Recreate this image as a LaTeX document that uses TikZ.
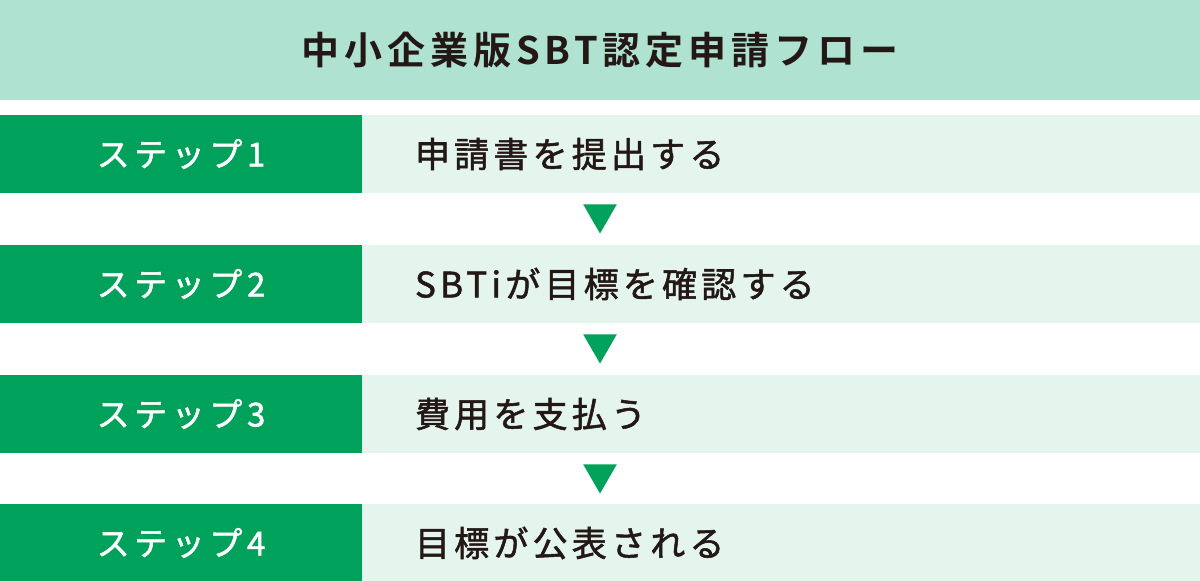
\documentclass[tikz,border=0pt]{standalone}
\usepackage{fontspec}
\usepackage{tikz}
\usetikzlibrary{shapes.geometric}
\newfontfamily\jphead[LetterSpace=13]{Noto Sans CJK JP Bold}
\newfontfamily\jpstep[LetterSpace=14,FakeBold=1.5]{Noto Sans CJK JP}
\newfontfamily\jptask[LetterSpace=12,FakeBold=1.5]{Noto Sans CJK JP}
\definecolor{headmint}{HTML}{B0E2D1}
\definecolor{stepgreen}{HTML}{00A15A}
\definecolor{taskmint}{HTML}{E4F5EE}
\definecolor{inkdark}{HTML}{231815}
\tikzset{
  headbar/.style={fill=headmint, minimum width=1200, minimum height=100, inner sep=0pt,
    text=inkdark, font=\jphead\fontsize{38}{43}\selectfont},
  stepbox/.style={fill=stepgreen, minimum width=362, minimum height=78, inner sep=0pt,
    text=white, font=\jpstep\fontsize{33}{38}\selectfont},
  taskbox/.style={fill=taskmint, minimum height=78, inner xsep=53, inner ysep=0pt,
    text width=732, align=left, text=inkdark, font=\jptask\fontsize{35}{40}\selectfont},
  downmark/.style={regular polygon, regular polygon sides=3, shape border rotate=180,
    fill=stepgreen, minimum size=39, inner sep=0pt}
}
\begin{document}
\begin{tikzpicture}[x=1pt,y=-1pt]
\useasboundingbox (0,0) rectangle (1200,581);
\node [headbar] (head) at (600,50) {中小企業版SBT認定申請フロー};
% step 1
\node [stepbox] (s1) at (181,154) {ステップ1};
\node [taskbox] (t1) at (781,154) {申請書を提出する};
\node [downmark] (m1) at (600,214) {};
% step 2
\node [stepbox] (s2) at (181,284) {ステップ2};
\node [taskbox] (t2) at (781,284) {SBTiが目標を確認する};
\node [downmark] (m2) at (600,344) {};
% step 3
\node [stepbox] (s3) at (181,414) {ステップ3};
\node [taskbox] (t3) at (781,414) {費用を支払う};
\node [downmark] (m3) at (600,474) {};
% step 4
\node [stepbox] (s4) at (181,543) {ステップ4};
\node [taskbox] (t4) at (781,543) {目標が公表される};
\end{tikzpicture}
\end{document}
